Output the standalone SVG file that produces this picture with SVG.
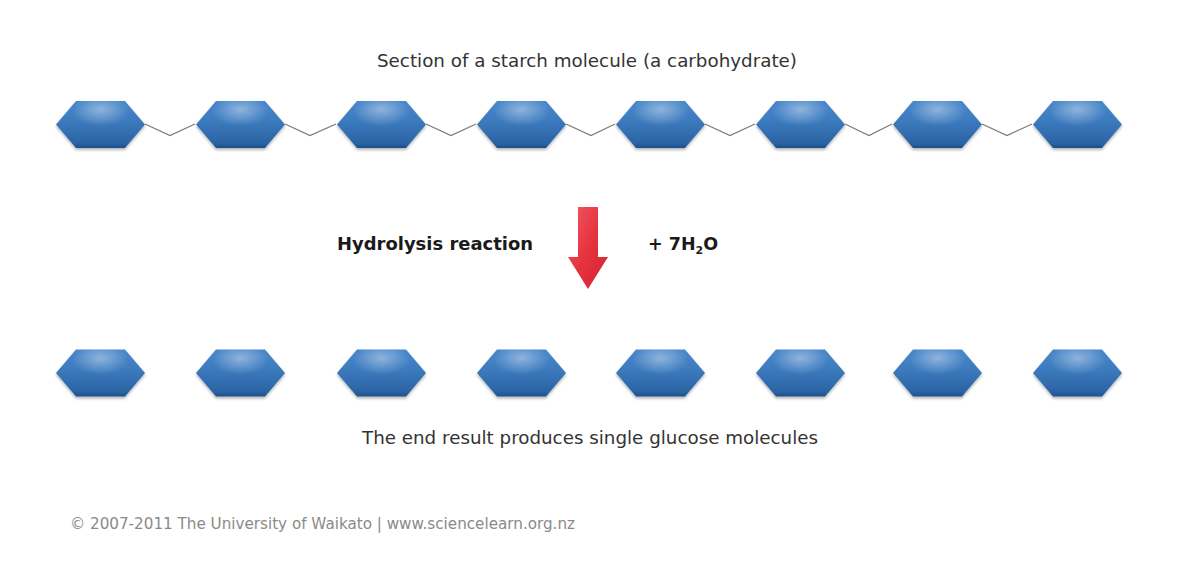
<svg xmlns="http://www.w3.org/2000/svg" width="1200" height="578" viewBox="0 0 1200 578">
<defs>
<linearGradient id="hexFill" x1="0" y1="0" x2="0" y2="1">
<stop offset="0" stop-color="#4a88cb"/>
<stop offset="0.45" stop-color="#3b79bd"/>
<stop offset="0.9" stop-color="#2a63a3"/>
<stop offset="1" stop-color="#1e4f88"/>
</linearGradient>
<radialGradient id="hexShine" cx="0.5" cy="0.22" r="0.32" fx="0.5" fy="0.18">
<stop offset="0" stop-color="#ffffff" stop-opacity="0.4"/>
<stop offset="1" stop-color="#ffffff" stop-opacity="0"/>
</radialGradient>
<linearGradient id="arrowFill" x1="0" y1="0" x2="1" y2="1">
<stop offset="0" stop-color="#f25866"/>
<stop offset="0.5" stop-color="#e6343f"/>
<stop offset="1" stop-color="#d22232"/>
</linearGradient>
<filter id="shadow" x="-20%" y="-20%" width="140%" height="160%">
<feGaussianBlur in="SourceAlpha" stdDeviation="1.5"/>
<feOffset dx="0" dy="2" result="b"/>
<feComponentTransfer><feFuncA type="linear" slope="0.3"/></feComponentTransfer>
<feMerge><feMergeNode/><feMergeNode in="SourceGraphic"/></feMerge>
</filter>
<g id="hex">
<polygon points="-44,0 -24,-23.5 25,-23.5 45,0 25,23.5 -24,23.5" fill="url(#hexFill)" filter="url(#shadow)"/>
<polygon points="-44,0 -24,-23.5 25,-23.5 45,0 25,23.5 -24,23.5" fill="url(#hexShine)"/>
</g>
</defs>
<style>
.t{font-family:"DejaVu Sans","Verdana",sans-serif;fill:#333333}
.b{font-family:"DejaVu Sans","Verdana",sans-serif;font-weight:bold;fill:#1a1a1a}
.c{font-family:"DejaVu Sans","Verdana",sans-serif;fill:#8a8a8a}
.bond{fill:none;stroke:#7a7a7a;stroke-width:1.2}
</style>
<rect width="1200" height="578" fill="#ffffff"/>
<text class="t" x="377" y="67" font-size="17.5" textLength="420" lengthAdjust="spacingAndGlyphs">Section of a starch molecule (a carbohydrate)</text>
<g id="connectors">
<polyline class="bond" points="145,124 170,135.5 195,124"/>
<polyline class="bond" points="285,124 310,135.5 336,124"/>
<polyline class="bond" points="426,124 451,135.5 476,124"/>
<polyline class="bond" points="566,124 591,135.5 615,124"/>
<polyline class="bond" points="705,124 730,135.5 755,124"/>
<polyline class="bond" points="845,124 869,135.5 892,124"/>
<polyline class="bond" points="982,124 1007,135.5 1032,124"/>
</g>
<g id="starch">
<g id="s1"><use href="#hex" x="100" y="124.5"/></g>
<g id="s2"><use href="#hex" x="240" y="124.5"/></g>
<g id="s3"><use href="#hex" x="381" y="124.5"/></g>
<g id="s4"><use href="#hex" x="521" y="124.5"/></g>
<g id="s5"><use href="#hex" x="660" y="124.5"/></g>
<g id="s6"><use href="#hex" x="800" y="124.5"/></g>
<g id="s7"><use href="#hex" x="937" y="124.5"/></g>
<g id="s8"><use href="#hex" x="1077" y="124.5"/></g>
</g>
<g id="reaction">
<text class="b" x="337" y="250" font-size="17.5" textLength="196" lengthAdjust="spacingAndGlyphs">Hydrolysis reaction</text>
<polygon points="578,207 598,207 598,257 608,257 588,289 568,257 578,257" fill="url(#arrowFill)"/>
<text class="b" x="648" y="250" font-size="17.5">+ 7H<tspan font-size="11" dy="4">2</tspan><tspan dy="-4">O</tspan></text>
</g>
<g id="glucose">
<g id="g1"><use href="#hex" x="100" y="373"/></g>
<g id="g2"><use href="#hex" x="240" y="373"/></g>
<g id="g3"><use href="#hex" x="381" y="373"/></g>
<g id="g4"><use href="#hex" x="521" y="373"/></g>
<g id="g5"><use href="#hex" x="660" y="373"/></g>
<g id="g6"><use href="#hex" x="800" y="373"/></g>
<g id="g7"><use href="#hex" x="937" y="373"/></g>
<g id="g8"><use href="#hex" x="1077" y="373"/></g>
</g>
<text class="t" x="362" y="444" font-size="17.5" textLength="456" lengthAdjust="spacingAndGlyphs">The end result produces single glucose molecules</text>
<text class="c" x="70" y="529" font-size="15" textLength="505" lengthAdjust="spacingAndGlyphs">© 2007-2011 The University of Waikato | www.sciencelearn.org.nz</text>
</svg>
